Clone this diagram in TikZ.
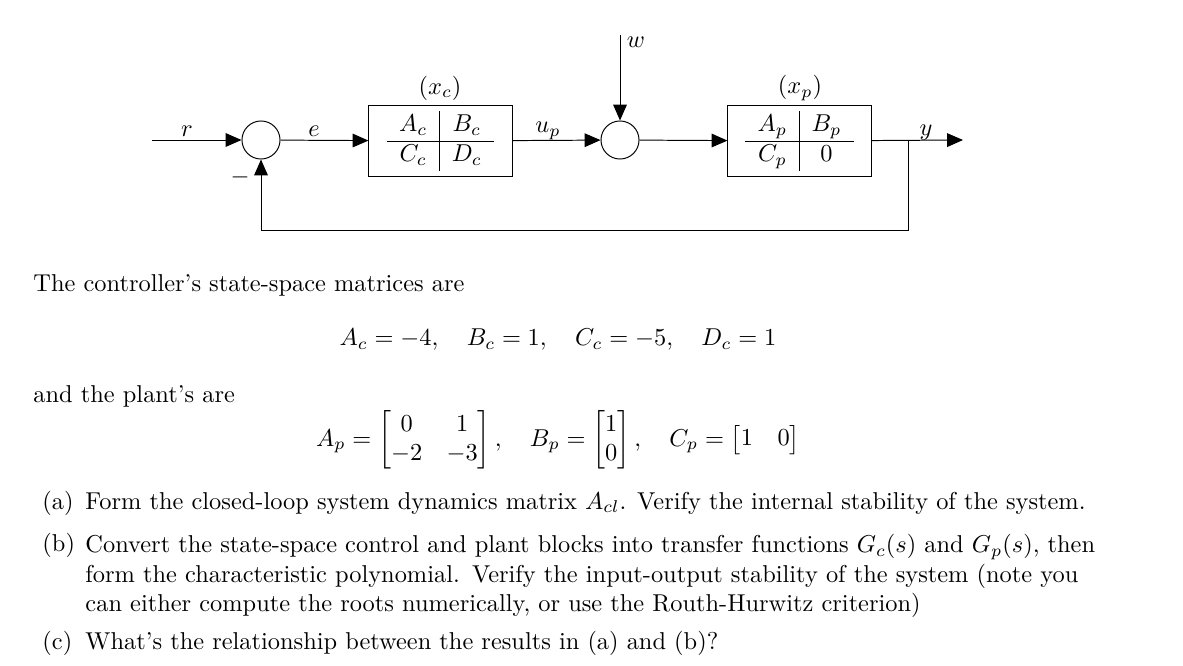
\documentclass[tikz,border=0pt]{standalone}
\usepackage{amsmath}
\usepackage{tikz}
\usetikzlibrary{arrows.meta}

\begin{document}
\begin{tikzpicture}[x=0.41pt, y=-0.41pt, >={Triangle[length=6.5pt,width=5.6pt]},
    blk/.style={draw, minimum width=58.7pt, minimum height=29.5pt, inner sep=0pt},
    sum/.style={draw, circle, minimum size=15.6pt, inner sep=0pt},
    lbl/.style={inner sep=0pt},
    txt/.style={anchor=west, inner sep=0pt, align=left}]
    \useasboundingbox (0,0) rectangle (1183,666);
    % block diagram
    \coordinate (rin) at (152,140);
    \node[sum] (s1) at (261,140) {};
    \node[blk] (ctrl) at (440.5,141) {$\begin{array}{c|c} A_c & B_c\\ \hline C_c & D_c\end{array}$};
    \node[sum] (s2) at (620,140) {};
    \node[blk] (plant) at (799.5,141) {$\begin{array}{c|c} A_p & B_p\\ \hline C_p & 0\end{array}$};
    \coordinate (win) at (620,35);
    \coordinate (yout) at (963,140);
    \coordinate (tap) at (908,140);
    \node[lbl] at (440,88) {$(x_c)$};
    \node[lbl] at (800,88) {$(x_p)$};
    \node[lbl] at (187,131) {$r$};
    \node[lbl] at (314,131) {$e$};
    \node[lbl] at (548,131) {$u_p$};
    \node[lbl] at (636,42) {$w$};
    \node[lbl] at (926,133) {$y$};
    \node[lbl] at (240,177) {$-$};
    \draw[->] (rin) -- (s1);
    \draw[->] (s1) -- (ctrl);
    \draw[->] (ctrl) -- (s2);
    \draw[->] (win) -- (s2);
    \draw[->] (s2) -- (plant);
    \draw[->] (plant) -- (yout);
    \draw[->] (tap) -- (908,230) -| (s1);
    % problem text
    \node[txt] (t1) at (33,285) {The controller's state-space matrices are};
    \node[inner sep=0pt] (eq1) at (558,340) {$A_c = -4,\quad B_c = 1,\quad C_c = -5,\quad D_c = 1$};
    \node[txt] (t2) at (33,396) {and the plant's are};
    \node[inner sep=0pt] (eq2) at (558,440) {$A_p = \begin{bmatrix} 0 & 1\\ -2 & -3\end{bmatrix},\quad B_p = \begin{bmatrix} 1\\ 0\end{bmatrix},\quad C_p = \begin{bmatrix} 1 & 0\end{bmatrix}$};
    \node[txt] (ia) at (42,503) {(a)};
    \node[txt] (ta) at (85,503) {Form the closed-loop system dynamics matrix $A_{cl}$. Verify the internal stability of the system.};
    \node[txt] (ib) at (42,545) {(b)};
    \node[txt, anchor=north west, text width=414pt] (tb) at (85,534) {Convert the state-space control and plant blocks into transfer functions $G_c(s)$ and $G_p(s)$, then form the characteristic polynomial. Verify the input-output stability of the system (note you can either compute the roots numerically, or use the Routh-Hurwitz criterion)};
    \node[txt] (ic) at (42,643) {(c)};
    \node[txt] (tc) at (85,643) {What's the relationship between the results in (a) and (b)?};
\end{tikzpicture}
\end{document}
